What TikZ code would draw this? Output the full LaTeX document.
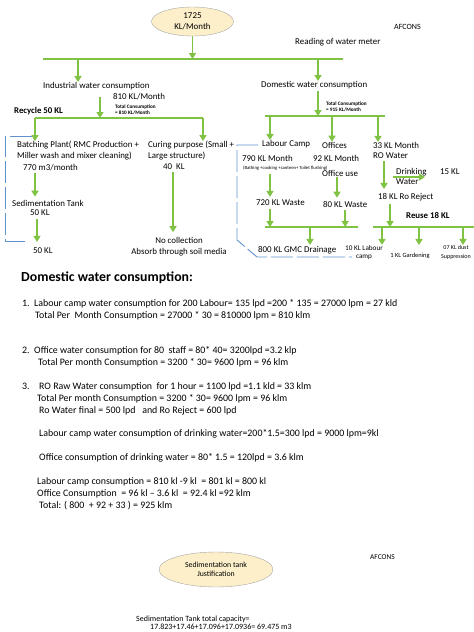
\documentclass[tikz,border=0pt]{standalone}
\usepackage{fontspec}
\setmainfont{Carlito}
\usepackage{tikz}
\usetikzlibrary{positioning,arrows.meta,shapes.geometric}
\definecolor{flowgreen}{RGB}{128,194,68}
\definecolor{bracketblue}{RGB}{96,146,206}
\definecolor{ovalfill}{RGB}{252,239,202}

\begin{document}
\begin{tikzpicture}[x=1pt,y=-1pt,font=\fontsize{8.9}{10.5}\selectfont]
  \tikzstyle{flow}=[-{Triangle[width=7pt,length=6pt]},draw=flowgreen,fill=flowgreen,line width=1.8pt]
  \tikzstyle{bus}=[draw=flowgreen,line width=1.5pt]
  \tikzstyle{oval}=[ellipse,draw=black!35,fill=ovalfill,align=center,inner sep=0pt]
  \tikzstyle{lbl}=[anchor=west,inner sep=0pt,align=left]
  \tikzstyle{boldlbl}=[lbl,font=\bfseries\fontsize{8.8}{10.5}\selectfont]
  \tikzstyle{tinybold}=[lbl,font=\bfseries\fontsize{5.2}{5.6}\selectfont]
  \tikzstyle{tinynote}=[lbl,font=\fontsize{4.7}{5}\selectfont]
  \tikzstyle{small}=[font=\fontsize{8}{9.5}\selectfont]
  \tikzstyle{calc}=[lbl,text height=7pt,text depth=2pt,font=\fontsize{9.9}{11}\selectfont]
  \tikzstyle{bracket}=[draw=bracketblue,line width=0.9pt,dash pattern=on 22pt off 4pt]

  \useasboundingbox (0,0) rectangle (474,632);

  % meter reading and first split
  \node[oval,minimum width=82pt,minimum height=29pt] (meter) at (192.5,21.5) {1725\\KL/Month};
  \node[lbl,small] (afcons) at (394,27) {AFCONS};
  \node[lbl] (reading) at (295,42) {Reading of water meter};
  \coordinate (busTopL) at (43,59);
  \coordinate (busTopR) at (343,59);
  \draw[bus] (busTopL) -- (busTopR);
  \draw[flow] (meter.south) -- (meter.south |- busTopL);
  \coordinate (indTap) at (78,59);
  \coordinate (domTap) at (318,59);

  % industrial side
  \node[lbl] (industrial) at (43,86) {Industrial water consumption};
  \node[lbl] (indmonth) at (113,97) {810 KL/Month};
  \node[boldlbl] (recycle) at (14,111) {Recycle 50 KL};
  \node[tinybold] (indtotal) at (115,110) {Total Consumption\\= 810 KL/Month};
  \draw[flow] (indTap) -- (indTap |- industrial.north);
  \coordinate (indDrop) at (100,97);
  \coordinate (busIndL) at (35,118);
  \coordinate (busIndR) at (203,118);
  \draw[bus] (busIndL) -- (busIndR);
  \draw[flow] (indDrop) -- (indDrop |- busIndL);

  \node[lbl] (batching) at (17,150.5) {Batching Plant( RMC Production +\\Miller wash and mixer cleaning)};
  \node[lbl] (batchqty) at (23,168) {770 m3/month};
  \node[lbl] (sedtank) at (12,203) {Sedimentation Tank};
  \node[lbl] (sedqty) at (30,213) {50 KL};
  \node[lbl] (recycled) at (33,251) {50 KL};
  \draw[flow] (busIndL) -- (busIndL |- batching.north);
  \draw[flow,shorten <=2pt,shorten >=3pt] (busIndL |- batchqty.south) -- (busIndL |- sedtank.north);
  \coordinate (sedX) at (37,0);
  \draw[flow,shorten <=3pt,shorten >=6pt] (sedX |- sedqty.south) -- (sedX |- recycled.north);

  \node[lbl] (curing) at (148,150.5) {Curing purpose (Small +\\Large structure)};
  \node[lbl] (curingqty) at (163,167) {40\ \ KL};
  \node[align=center,inner sep=0pt] (nocollect) at (179,246.5) {No collection\\Absorb through soil media};
  \draw[flow] (busIndR) -- (busIndR |- curing.north);
  \coordinate (curingX) at (173,0);
  \draw[flow,shorten <=2pt,shorten >=5pt] (curingX |- curingqty.south) -- (curingX |- nocollect.north);

  % recycle brackets
  \draw[bracket] (32,136) -| (5,241) -- (28,241);
  \draw[bracket] (258,145) -- (237,145) -- (237,240) -- (257,257) -- (352,257);

  % domestic side
  \node[lbl] (domestic) at (261,85) {Domestic water consumption};
  \draw[flow] (domTap) -- (domTap |- domestic.north);
  \node[tinybold] (domtotal) at (326,107) {Total Consumption\\= 915 KL/Month};
  \coordinate (busDomL) at (265,116);
  \coordinate (busDomR) at (385,116);
  \draw[bus] (busDomL) -- (busDomR);
  \draw[flow,shorten <=2pt] (domTap |- domestic.south) -- (domTap |- busDomL);

  \node[lbl] (labour) at (262,144) {Labour Camp};
  \node[lbl] (offices) at (322,145) {Offices};
  \node[lbl] (ro) at (373,150.5) {33 KL Month\\RO Water};
  \node[lbl] (labqty) at (242,158) {790 KL Month};
  \node[lbl] (offqty) at (313,158) {92 KL Month};
  \node[tinynote] (labnote) at (243,168) {(Bathing +cooking +canteen+ Toilet flushing)};
  \node[lbl] (offuse) at (322,173) {Office use};
  \coordinate (labTap) at (270,116);
  \coordinate (offTap) at (332,116);
  \coordinate (roTap) at (378,116);
  \draw[flow] (labTap) -- (labTap |- labour.north);
  \draw[flow] (offTap) -- (offTap |- offices.north);
  \draw[flow] (roTap) -- (roTap |- ro.north);

  \node[lbl] (labwaste) at (256,203) {720 KL Waste};
  \node[lbl] (offwaste) at (323,204) {80 KL Waste};
  \coordinate (offX) at (337,0);
  \draw[flow,shorten <=4pt,shorten >=3pt] (labTap |- labnote.south) -- (labTap |- labwaste.north);
  \draw[flow,shorten <=1pt,shorten >=3pt] (offX |- offuse.south) -- (offX |- offwaste.north);

  % RO branch
  \coordinate (roX) at (384,0);
  \node[lbl] (drinking) at (396,176.5) {Drinking\\Water};
  \node[lbl] (fifteen) at (440,172) {15 KL};
  \node[lbl] (reject) at (378,197) {18 KL Ro Reject};
  \draw[flow,shorten <=2pt,shorten >=4pt] (roX |- ro.south) -- (roX |- reject.north);
  \coordinate (drinkStart) at (393,177);
  \draw[flow,shorten >=15pt] (drinkStart) -- (drinkStart -| fifteen.west);
  \node[boldlbl] (reuse) at (406,215) {Reuse 18 KL};

  % waste collection
  \coordinate (busWasteL) at (265,227);
  \coordinate (busWasteR) at (358,227);
  \draw[bus] (busWasteL) -- (busWasteR);
  \draw[flow,shorten <=3pt] (labTap |- labwaste.south) -- (labTap |- busWasteL);
  \draw[flow,shorten <=3pt] (offwaste.south) -- (offwaste.south |- busWasteL);
  \node[lbl] (drainage) at (258,250) {800 KL GMC Drainage};
  \coordinate (drainTap) at (310,227);
  \draw[flow,shorten >=1pt] (drainTap) -- (drainTap |- drainage.north);

  % reuse of reject water
  \coordinate (busReuseL) at (373,227);
  \coordinate (busReuseR) at (474,227);
  \draw[bus] (busReuseL) -- (busReuseR);
  \coordinate (reuseTap) at (390,227);
  \draw[flow,shorten <=3pt] (reuseTap |- reject.south) -- (reuseTap);
  \node[align=center,inner sep=0pt,font=\fontsize{7.2}{8.5}\selectfont] (camp) at (364,252.5) {10 KL Labour\\camp};
  \node[inner sep=0pt,font=\fontsize{6.4}{7}\selectfont] (garden) at (410,256) {1 KL Gardening};
  \node[align=center,inner sep=0pt,font=\fontsize{6}{8.5}\selectfont] (dust) at (456,252.5) {07 KL dust\\Suppression};
  \coordinate (campTap) at (382,227);
  \coordinate (gardenTap) at (419,227);
  \coordinate (dustTap) at (463,227);
  \draw[flow] (campTap) -- (campTap |- camp.north);
  \draw[flow] (gardenTap) -- (gardenTap |- camp.north);
  \draw[flow] (dustTap) -- (dustTap |- camp.north);

  % calculations
  \node[lbl,font=\bfseries\fontsize{13.8}{16}\selectfont] (heading) at (21,278) {Domestic water consumption:};
  \node[calc] (n1) at (22,304) {1.};
  \node[calc] (c1a) at (34,304) {Labour camp water consumption for 200 Labour= 135 lpd =200 * 135 = 27000 lpm = 27 kld};
  \node[calc] (c1b) at (35,316) {Total Per\ \ Month Consumption = 27000 * 30 = 810000 lpm = 810 klm};
  \node[calc] (n2) at (22,351) {2.};
  \node[calc] (c2a) at (34,351) {Office water consumption for 80\ \ staff = 80* 40= 3200lpd =3.2 klp};
  \node[calc] (c2b) at (38,363) {Total Per month Consumption = 3200 * 30= 9600 lpm = 96 klm};
  \node[calc] (n3) at (22,387) {3.};
  \node[calc] (c3a) at (39,387) {RO Raw Water consumption\ \ for 1 hour = 1100 lpd =1.1 kld = 33 klm};
  \node[calc] (c3b) at (37,399) {Total Per month Consumption = 3200 * 30= 9600 lpm = 96 klm};
  \node[calc] (c3c) at (39,411) {Ro Water final = 500 lpd\ \ \ and Ro Reject = 600 lpd};
  \node[calc] (c3d) at (39,434) {Labour camp water consumption of drinking water=200*1.5=300 lpd = 9000 lpm=9kl};
  \node[calc] (c3e) at (39,458) {Office consumption of drinking water = 80* 1.5 = 120lpd = 3.6 klm};
  \node[calc] (c3f) at (37,482) {Labour camp consumption = 810 kl -9 kl\ \ = 801 kl = 800 kl};
  \node[calc] (c3g) at (37,494) {Office Consumption\ \ = 96 kl – 3.6 kl\ \ = 92.4 kl =92 klm};
  \node[calc] (c3h) at (39,506) {Total: ( 800\ \ + 92 + 33 ) = 925 klm};

  % sedimentation tank page
  \node[lbl,font=\fontsize{7.4}{9}\selectfont] (afcons2) at (370,557) {AFCONS};
  \node[oval,minimum width=114pt,minimum height=35pt,font=\fontsize{7.8}{9.5}\selectfont] (justify) at (216,569.5) {Sedimentation tank\\Justification};
  \node[lbl,small] (capacity) at (136,619) {Sedimentation Tank total capacity=};
  \node[lbl,small] (capsum) at (150,627) {17.823+17.46+17.096+17.0936= 69.475 m3};
\end{tikzpicture}
\end{document}
